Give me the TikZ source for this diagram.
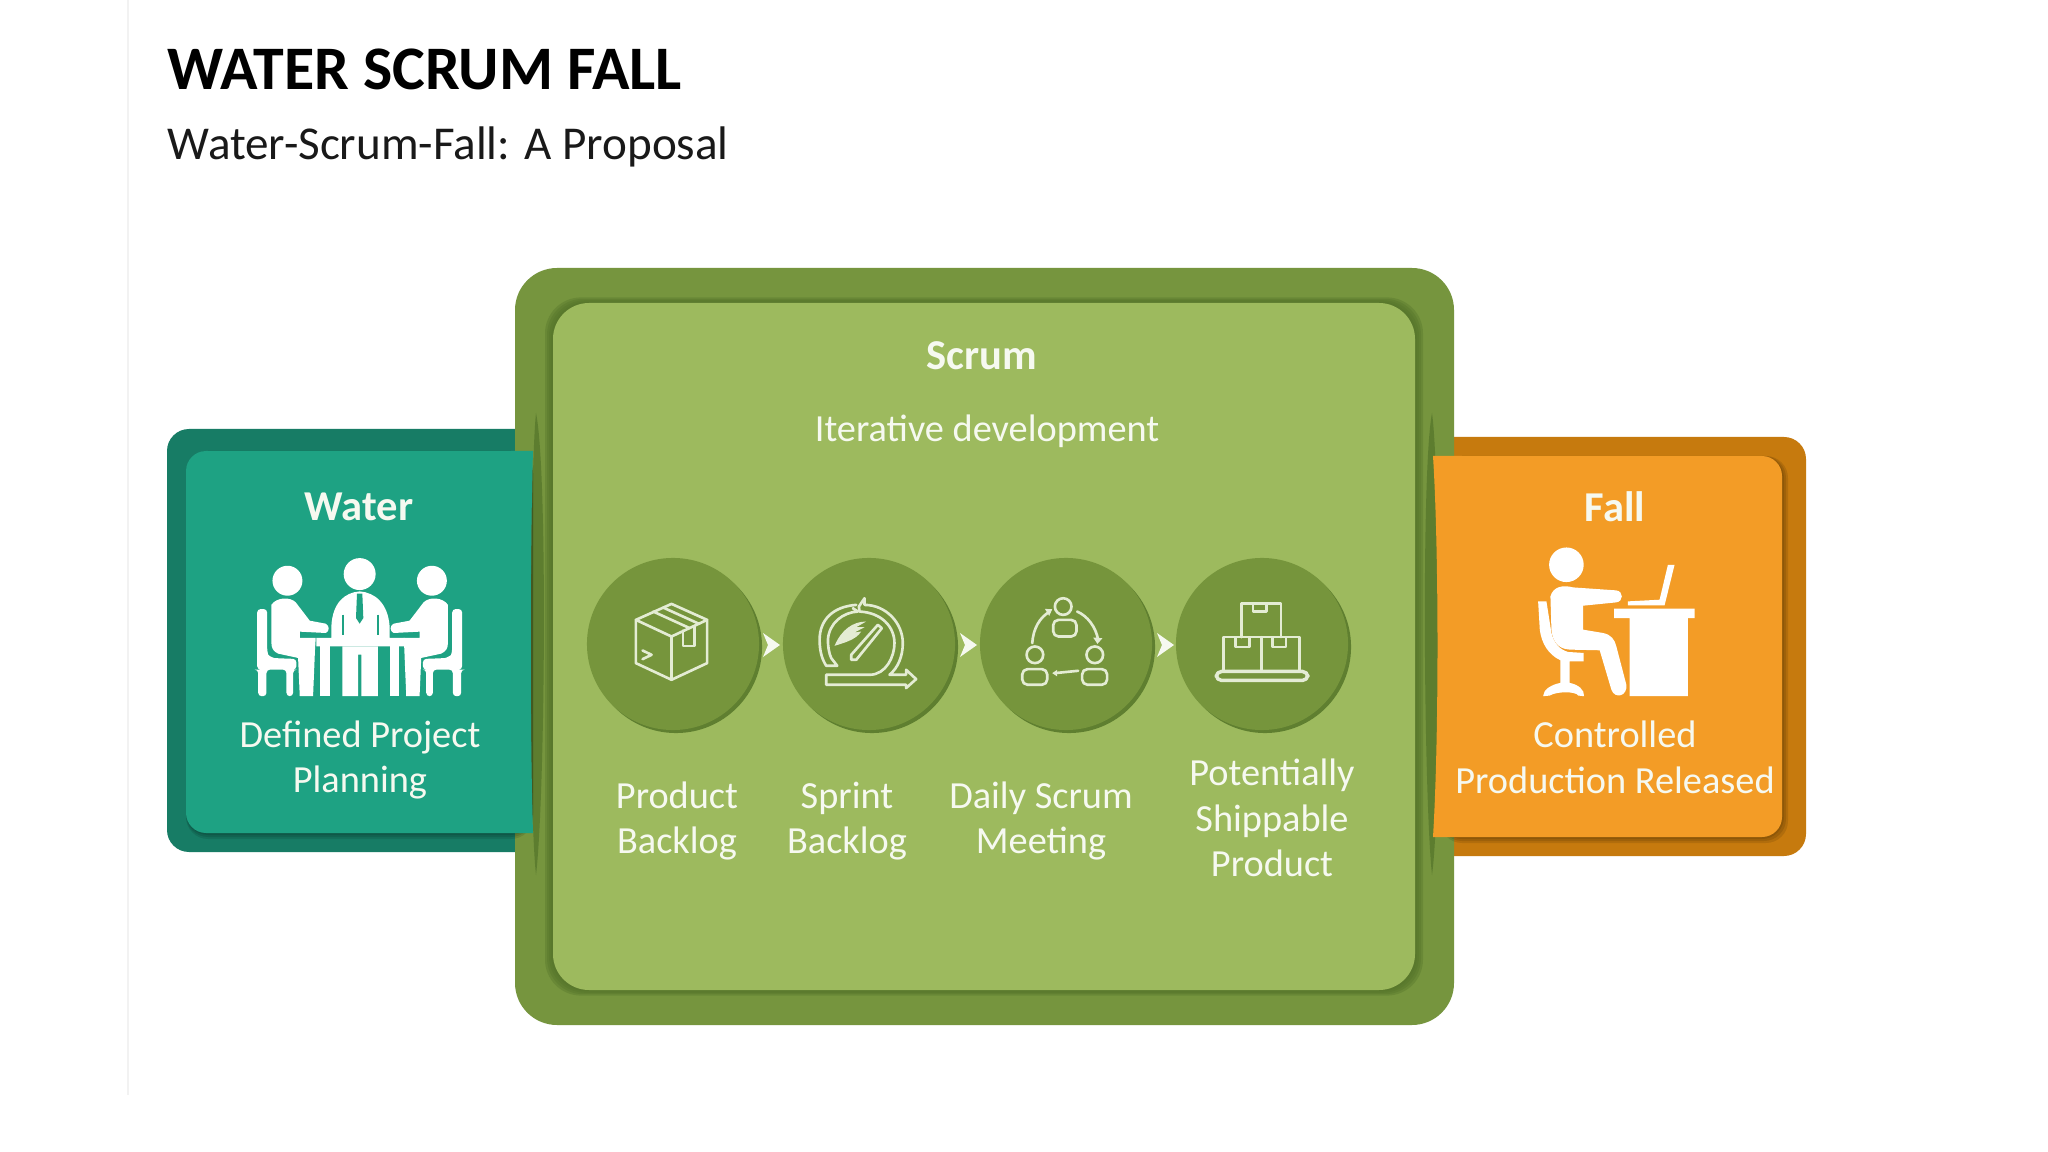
\documentclass[tikz,border=0pt]{standalone}
\usepackage{fontspec}
\setmainfont{Carlito}
\definecolor{wOut}{HTML}{177C65}
\definecolor{wIn}{HTML}{1EA283}
\definecolor{sOut}{HTML}{76953E}
\definecolor{sIn}{HTML}{9DBA5E}
\definecolor{sDark}{HTML}{55752B}
\definecolor{sCirc}{HTML}{76953C}
\definecolor{sCircD}{HTML}{5F7F30}
\definecolor{fOut}{HTML}{C67A0E}
\definecolor{fIn}{HTML}{F39C26}
\definecolor{icon}{HTML}{E4ECD4}
\definecolor{txt}{HTML}{F6F9F0}
\tikzset{
  lab/.style={text=txt,align=center,inner sep=0pt,font=\fontsize{10.9}{13}\selectfont},
  labb/.style={text=txt,align=center,inner sep=0pt,font=\fontsize{12.1}{13}\selectfont\bfseries},
  disc/.style={circle,fill=sCirc,minimum size=1.72cm,inner sep=0pt},
  ico/.style={draw=icon,line width=0.75pt,line join=round,line cap=round},
  arrowtip/.style={fill=txt},
  zoomA/.style={shift={(570,540)},x=0.003333cm,y=-0.003333cm},
  zoomB/.style={shift={(970,540)},x=0.003333cm,y=-0.003333cm},
  zoomW/.style={shift={(150,420)},x=0.003333cm,y=-0.003333cm},
  zoomF/.style={shift={(1400,420)},x=0.003333cm,y=-0.003333cm},
}
\begin{document}
\begin{tikzpicture}[x=0.01cm,y=-0.01cm]
\useasboundingbox (0,0) rectangle (2048,1152);
\fill[white] (0,0) rectangle (2048,1152);
\fill[gray!10] (127,0) rectangle (128.5,1095);

% title
\node[anchor=base west,inner sep=0pt,font=\fontsize{17.6}{19}\selectfont\bfseries,text=black] (title) at (167,90) {WATER SCRUM FALL};
\node[anchor=base west,inner sep=0pt,font=\fontsize{13.4}{16}\selectfont,text=black!90] (subtitle) at (167,160) {Water-Scrum-Fall: A Proposal};

% back panels
\fill[wOut,rounded corners=0.22cm] (167,429) rectangle (560,852);
\fill[fOut,rounded corners=0.22cm] (1400,437) rectangle (1806,856);

% scrum outer
\fill[sOut,rounded corners=0.42cm] (515,268) rectangle (1454,1025);

% flap shadows
\fill[sDark,opacity=0.75] (536,413) .. controls (530,470) and (528,800) .. (536,875) .. controls (545,800) and (548,470) .. cycle;
\fill[sDark,opacity=0.75] (1432,413) .. controls (1440,470) and (1442,800) .. (1432,875) .. controls (1424,800) and (1421,470) .. cycle;

% water inner
\foreach \d in {1,2,3}{\fill[black,opacity=0.10,rounded corners=0.22cm] (186,451) rectangle (533,833+2*\d);}
\fill[wIn] (206,451) -- (533,451) .. controls (530,550) and (530,740) .. (533,833) -- (206,833) .. controls (195,833) and (186,824) .. (186,813) -- (186,471) .. controls (186,460) and (195,451) .. (206,451) -- cycle;

% fall inner
\foreach \d in {1,2,3}{\fill[black,opacity=0.10,rounded corners=0.22cm] (1440,456) rectangle (1782+2*\d,837+2*\d);}
\fill[fIn] (1433,456) -- (1762,456) .. controls (1773,456) and (1782,465) .. (1782,476) -- (1782,817) .. controls (1782,828) and (1773,837) .. (1762,837) -- (1433,837) .. controls (1439,740) and (1439,550) .. (1433,456) -- cycle;

% scrum inner
\foreach \d in {2,4,6,8}{\fill[sDark,opacity=0.38,rounded corners=0.36cm] (553-\d,303-\d*0.7) rectangle (1415+\d,990+\d*0.7);}
\fill[sIn,rounded corners=0.36cm] (553,303) rectangle (1415,990);

% discs
\foreach \cx in {673,869,1066,1262}{\fill[sCircD] (\cx+3,644+3) circle (0.86cm);}
\node[disc] (c1) at (673,644) {};
\node[disc] (c2) at (869,644) {};
\node[disc] (c3) at (1066,644) {};
\node[disc] (c4) at (1262,644) {};

% chevrons
\fill[arrowtip] (763,633) -- (780,645) -- (763,657) -- (768,645) -- cycle;
\fill[arrowtip] (960,633) -- (977,645) -- (960,657) -- (965,645) -- cycle;
\fill[arrowtip] (1157,633) -- (1174,645) -- (1157,657) -- (1162,645) -- cycle;

% box icon
\begin{scope}[zoomA]
\draw[ico] (305,192) -- (412,240) -- (412,370) -- (305,420) -- (198,370) -- (198,240) -- cycle;
\draw[ico] (198,240) -- (305,290) -- (412,240) (305,290) -- (305,420);
\draw[ico] (250,215) -- (360,265) (280,203) -- (388,252);
\draw[ico] (340,272) -- (340,318) -- (375,318) -- (375,258);
\draw[ico] (218,332) -- (245,345) -- (218,358);
% sprint icon
\draw[ico] (860,195) .. controls (790,200) and (750,240) .. (750,300) .. controls (750,335) and (758,360) .. (770,378) -- (803,378) -- (785,355) .. controls (778,340) and (775,320) .. (775,300) .. controls (778,250) and (820,217) .. (865,215) -- (850,205);
\draw[ico] (868,200) -- (885,175) -- (885,195) .. controls (950,195) and (1000,250) .. (1000,310) .. controls (1000,350) and (985,385) .. (960,405) -- (1010,405) -- (1010,390) -- (1040,418) -- (1010,445) -- (1010,435) -- (770,435) -- (770,405) -- (900,405) .. controls (950,405) and (975,350) .. (975,310) .. controls (975,260) and (935,218) .. (870,215) -- cycle;
\fill[icon] (795,318) .. controls (820,310) and (860,300) .. (875,275) -- (855,278) -- (885,262) -- (860,262) -- (890,245) .. controls (850,245) and (815,270) .. cycle;
\draw[ico] (845,345) -- (925,255) -- (937,265) -- (860,360) -- (845,360) -- cycle;
\end{scope}

\begin{scope}[zoomB]
% meeting icon
\draw[ico] (280,200) circle [radius=25];
\draw[ico,rounded corners=1.5pt] (250,240) rectangle (320,290);
\draw[ico] (195,345) circle [radius=25];
\draw[ico,rounded corners=1.5pt] (157,388) rectangle (232,435);
\draw[ico] (375,345) circle [radius=25];
\draw[ico,rounded corners=1.5pt] (337,388) rectangle (412,435);
\draw[ico] (187,310) .. controls (190,265) and (210,232) .. (240,215);
\fill[icon] (225,207) -- (247,208) -- (238,228) -- cycle;
\draw[ico] (322,215) .. controls (352,228) and (378,260) .. (385,300);
\fill[icon] (370,293) -- (398,295) -- (383,312) -- cycle;
\draw[ico] (325,393) -- (255,400);
\fill[icon] (247,400) -- (262,390) -- (262,410) -- cycle;
% stack icon
\draw[ico] (815,292) -- (815,190) -- (935,190) -- (935,292);
\draw[ico] (850,192) -- (850,215) -- (890,215) -- (890,192);
\draw[ico] (762,395) -- (762,292) -- (990,292) -- (990,395);
\draw[ico] (875,292) -- (875,395);
\draw[ico] (798,294) -- (798,322) -- (840,322) -- (840,294);
\draw[ico] (908,294) -- (908,322) -- (950,322) -- (950,294);
\draw[ico,rounded corners=1.5pt,line width=1pt] (740,395) rectangle (1015,422);
\end{scope}

% water icon
\begin{scope}[zoomW]
\foreach \m/\sx in {0/1,1260/-1}{
\begin{scope}[shift={(\m,0)},xscale=\sx]
\fill[white] (413,483) circle [radius=45];
\fill[white] (365,555) .. controls (380,533) and (420,530) .. (438,548) -- (480,603) -- (528,612) .. controls (540,618) and (540,635) .. (528,640) -- (450,636) -- (450,655) -- (498,655) -- (496,685) -- (490,830) -- (450,830) -- (445,715) -- (385,702) .. controls (370,695) and (365,685) .. (365,672) -- cycle;
\fill[white,rounded corners=1pt] (322,568) -- (352,568) -- (352,695) .. controls (356,708) and (370,715) .. (385,716) -- (440,718) -- (440,750) -- (430,750) -- (430,830) -- (410,830) -- (410,750) -- (350,750) -- (350,830) -- (325,830) -- (325,750) -- (322,750) -- cycle;
\fill[white] (512,680) rectangle (540,830);
\end{scope}}
\fill[white] (630,463) circle [radius=48];
\fill[white] (545,620) .. controls (548,550) and (585,518) .. (630,515) .. controls (675,518) and (715,550) .. (720,620) -- (720,655) -- (765,655) -- (765,680) -- (500,680) -- (500,655) -- (545,655) -- cycle;
\fill[white] (578,680) -- (685,680) -- (685,830) -- (635,830) -- (635,705) -- (625,705) -- (625,830) -- (578,830) -- cycle;
\fill[wIn] (622,522) -- (638,522) -- (641,595) -- (630,612) -- (619,595) -- cycle;
\draw[wIn,line width=0.8pt] (580,585) -- (580,645) (685,585) -- (685,645);
\end{scope}

% fall icon
\begin{scope}[zoomF]
\fill[white] (500,435) circle [radius=52];
\fill[white] (452,530) .. controls (460,500) and (490,495) .. (520,503) -- (650,512) .. controls (672,515) and (672,545) .. (650,548) -- (550,558) -- (550,630) -- (610,640) .. controls (635,645) and (645,660) .. (650,680) -- (680,795) .. controls (685,830) and (645,840) .. (635,810) -- (600,692) -- (510,690) .. controls (475,688) and (458,665) .. (455,630) -- cycle;
\fill[white] (415,545) -- (440,545) -- (455,640) .. controls (462,670) and (480,690) .. (505,697) -- (552,700) -- (552,725) -- (510,725) -- (510,790) .. controls (535,795) and (555,810) .. (553,830) -- (535,828) .. controls (530,815) and (470,815) .. (450,828) -- (430,830) .. controls (430,810) and (455,795) .. (482,790) -- (482,722) .. controls (445,705) and (425,670) .. (420,630) -- cycle;
\fill[white] (643,567) -- (885,567) -- (885,595) -- (865,595) -- (865,830) -- (690,830) -- (690,595) -- (643,595) -- cycle;
\fill[white] (685,545) -- (780,540) -- (805,435) -- (825,435) -- (795,557) -- (685,557) -- cycle;
\end{scope}

% labels
\node[labb] (wT) at (359,507) {Water};
\node[lab] (wL) at (360,760) {Defined Project\\Planning};
\node[labb] (sT) at (982,356) {Scrum};
\node[lab] (sL) at (987,431) {Iterative development};
\node[labb] (fT) at (1615,507) {Fall};
\node[lab] (fL) at (1615,757) {Controlled\\Production Released};
\node[lab] (l1) at (677,821) {Product\\Backlog};
\node[lab] (l2) at (847,821) {Sprint\\Backlog};
\node[lab] (l3) at (1041,821) {Daily Scrum\\Meeting};
\node[lab] (l4) at (1272,818) {Potentially\\Shippable\\Product};
\end{tikzpicture}
\end{document}
